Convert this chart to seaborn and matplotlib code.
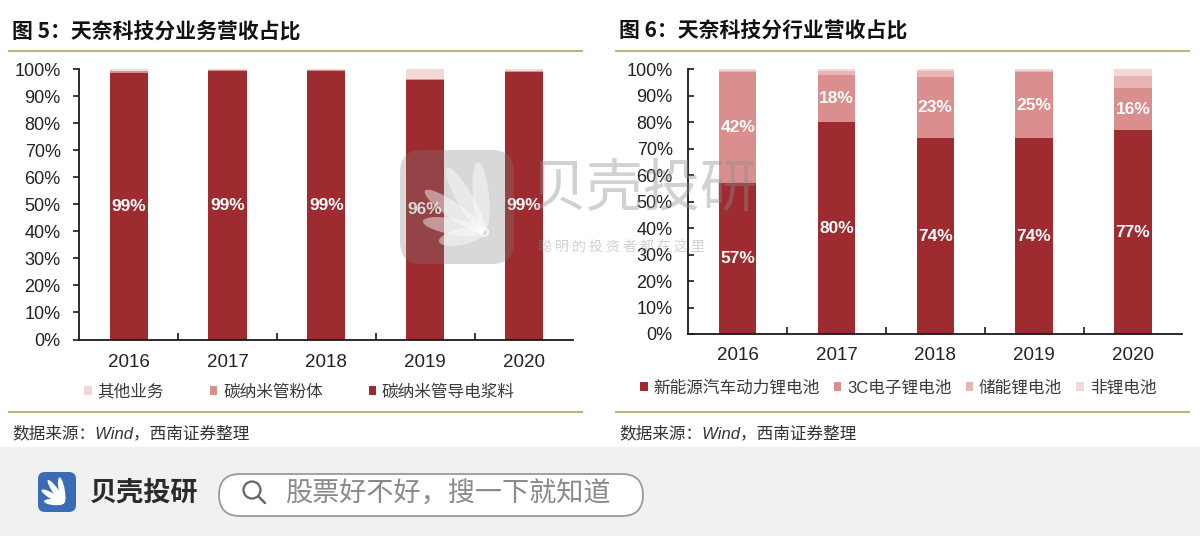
import matplotlib
matplotlib.use("Agg")
import matplotlib.pyplot as plt
import seaborn as sns
import numpy as np
import pandas as pd
from matplotlib.patches import Patch, FancyBboxPatch, Circle, Ellipse, Rectangle

years = ["2016", "2017", "2018", "2019", "2020"]

# 图5：天奈科技分业务营收占比 (%)
biz_names = ["碳纳米管导电浆料", "碳纳米管粉体", "其他业务"]
slurry = [98.6, 99.2, 99.3, 96.1, 98.8]
powder = [0.6, 0.3, 0.4, 0.3, 0.5]
other = [0.8, 0.5, 0.3, 3.6, 0.7]

# 图6：天奈科技分行业营收占比 (%)
ind_names = ["新能源汽车动力锂电池", "3C电子锂电池", "储能锂电池", "非锂电池"]
ev = [57, 80, 74, 74, 77]
c3 = [42, 18, 23, 25, 16]
storage = [0.5, 1.5, 2.5, 0.5, 4.5]
nonli = [0.5, 0.5, 0.5, 0.5, 2.5]

y_ticks = list(range(0, 101, 10))
y_labels = [f"{v}%" for v in y_ticks]

title5 = "图 5：天奈科技分业务营收占比"
title6 = "图 6：天奈科技分行业营收占比"
source = "数据来源：Wind，西南证券整理"

DARK = "#9E2B2F"
MID = "#DA8E8E"
LIGHT = "#E8B4B4"
PALE = "#F4D8D8"
OLIVE = "#BDB57A"
CJK = ["Noto Sans CJK SC", "DejaVu Sans"]

sns.set_theme(style="white")
plt.rcParams["font.family"] = ["Liberation Sans", "Noto Sans CJK SC", "DejaVu Sans"]

W, H = 1200, 536
fig = plt.figure(figsize=(W / 100, H / 100), dpi=100)
fig.patch.set_facecolor("white")


def px_axes(x0, y_top, x1, y_bot):
    return fig.add_axes([x0 / W, 1 - y_bot / H, (x1 - x0) / W, (y_bot - y_top) / H])


def stacked(ax, layers, colors, width):
    cum = np.cumsum(np.array(layers, dtype=float), axis=0)
    for k in range(len(layers) - 1, -1, -1):
        df = pd.DataFrame({"year": years, "v": cum[k]})
        sns.barplot(data=df, x="year", y="v", order=years, color=colors[k],
                    width=width, saturation=1, linewidth=0, errorbar=None, ax=ax)
    return cum


def style(ax, ydir, ypad, xpad):
    ax.set_xlim(-0.5, 4.5)
    ax.set_ylim(0, 100)
    ax.set_yticks(y_ticks)
    ax.set_yticklabels(y_labels)
    ax.set_xlabel("")
    ax.set_ylabel("")
    for s in ["top", "right"]:
        ax.spines[s].set_visible(False)
    for s in ["left", "bottom"]:
        ax.spines[s].set_color("#1a1a1a")
        ax.spines[s].set_linewidth(1.3)
    ax.tick_params(axis="y", direction=ydir, length=4, width=1.2, color="#1a1a1a",
                   labelsize=13, pad=ypad, labelcolor="#222222", left=True)
    ax.set_xticks(range(len(years)))
    ax.set_xticklabels(years)
    ax.tick_params(axis="x", which="major", length=0, labelsize=13.5, pad=xpad,
                   labelcolor="#222222")
    ax.set_xticks([0.5, 1.5, 2.5, 3.5], minor=True)
    ax.tick_params(axis="x", which="minor", direction="in", length=5, width=1.2,
                   color="#1a1a1a", bottom=True)
    ax.set_facecolor("none")


# ---- left chart
ax1 = px_axes(79.3, 69, 573.3, 339.5)
stacked(ax1, [slurry, powder, other], [DARK, MID, PALE], 0.385)
style(ax1, "out", 9.4, 10.5)
for i in range(len(years)):
    ax1.text(i, slurry[i] / 2, f"{slurry[i]:.0f}%", ha="center", va="center",
             color="white", fontsize=12.5, fontweight="bold")

# ---- right chart
ax2 = px_axes(688.3, 69.3, 1182.3, 334)
cum2 = stacked(ax2, [ev, c3, storage, nonli], [DARK, MID, LIGHT, PALE], 0.38)
style(ax2, "in", 11.2, 9.5)
for i in range(len(years)):
    ax2.text(i, ev[i] / 2, f"{ev[i]:.0f}%", ha="center", va="center",
             color="white", fontsize=12.5, fontweight="bold")
    ax2.text(i, ev[i] + c3[i] / 2, f"{c3[i]:.0f}%", ha="center", va="center",
             color="white", fontsize=12.5, fontweight="bold")

# ---- overlay in pixel coordinates
ov = fig.add_axes([0, 0, 1, 1], zorder=10)
ov.set_xlim(0, W)
ov.set_ylim(H, 0)
ov.axis("off")
ov.patch.set_alpha(0)

# titles, rules, sources
for x0, x1, t in [(8, 583, title5), (615, 1190, title6)]:
    ov.text(x0 + 4, 31, t, fontsize=15, fontweight="bold", va="center", ha="left",
            color="#111111", family=CJK)
    ov.plot([x0, x1], [50.5, 50.5], color=OLIVE, lw=1.5, solid_capstyle="butt")
    ov.plot([x0, x1], [411.5, 411.5], color=OLIVE, lw=1.5, solid_capstyle="butt")
    ov.text(x0 + 4, 433, source, fontsize=12, style="italic", va="center", ha="left",
            color="#333333")

# legends
h1 = [Patch(facecolor=c, edgecolor="none") for c in [PALE, MID, DARK]]
leg1 = ov.legend(h1, biz_names[::-1], loc="center left", bbox_to_anchor=(84, 392),
                 bbox_transform=ov.transData, ncol=3, frameon=False, fontsize=12,
                 handlelength=0.45, handleheight=0.45, handletextpad=0.35,
                 columnspacing=2.75, borderpad=0, borderaxespad=0,
                 labelcolor="#3a3a3a")
ov.add_artist(leg1)
h2 = [Patch(facecolor=c, edgecolor="none") for c in [DARK, MID, LIGHT, PALE]]
ov.legend(h2, ind_names, loc="center left", bbox_to_anchor=(640, 388),
          bbox_transform=ov.transData, ncol=4, frameon=False, fontsize=12,
          handlelength=0.45, handleheight=0.45, handletextpad=0.35,
          columnspacing=0.85, borderpad=0, borderaxespad=0, labelcolor="#3a3a3a")

# watermark
ov.add_patch(FancyBboxPatch((400, 150), 114, 114, boxstyle="round,pad=0,rounding_size=22",
                            fc="#808080", ec="none", alpha=0.3))
bx, by = 484, 232
for ang, ln in [(95, 70), (120, 74), (145, 72), (170, 62), (192, 46)]:
    r = np.deg2rad(ang)
    cx, cy = bx + np.cos(r) * ln / 2, by - np.sin(r) * ln / 2
    ov.add_patch(Ellipse((cx, cy), ln, 16, angle=-ang, fc="white", ec="none", alpha=0.45))
ov.add_patch(Circle((bx, by), 4, fc="none", ec="white", lw=1.5, alpha=0.7))
ov.text(530, 190, "贝壳投研", fontsize=41, color="#8c8c8c", alpha=0.4, va="center",
        ha="left", family=CJK)
ov.text(538, 247, "聪 明 的 投 资 者 都 在 这 里", fontsize=10, color="#8c8c8c", alpha=0.4,
        va="center", ha="left", style="italic", family=CJK)

# bottom bar
ov.add_patch(Rectangle((0, 447), W, H - 447, fc="#F1F1F1", ec="none"))
ov.add_patch(FancyBboxPatch((38, 472), 38, 40, boxstyle="round,pad=0,rounding_size=7",
                            fc="#3A6CB5", ec="none"))
lx, ly = 64, 503
for ang, ln in [(100, 26), (125, 28), (150, 26), (175, 20)]:
    r = np.deg2rad(ang)
    cx, cy = lx + np.cos(r) * ln / 2, ly - np.sin(r) * ln / 2
    ov.add_patch(Ellipse((cx, cy), ln, 6, angle=-ang, fc="white", ec="none"))
ov.text(90, 493, "贝壳投研", fontsize=19.5, fontweight="bold", color="#2b2b2b",
        va="center", ha="left", family=CJK)
ov.add_patch(FancyBboxPatch((219, 474), 424, 42, boxstyle="round,pad=0,rounding_size=21",
                            fc="white", ec="#9a9a9a", lw=1.3))
ov.add_patch(Circle((252, 490), 8.5, fill=False, ec="#666666", lw=1.6))
ov.plot([258.5, 265], [496.5, 503], color="#666666", lw=1.8, solid_capstyle="round")
ov.text(285, 494, "股票好不好，搜一下就知道", fontsize=19.5, color="#8a8a8a",
        va="center", ha="left", family=CJK)

fig.savefig("out.png", dpi=100, facecolor="white")
